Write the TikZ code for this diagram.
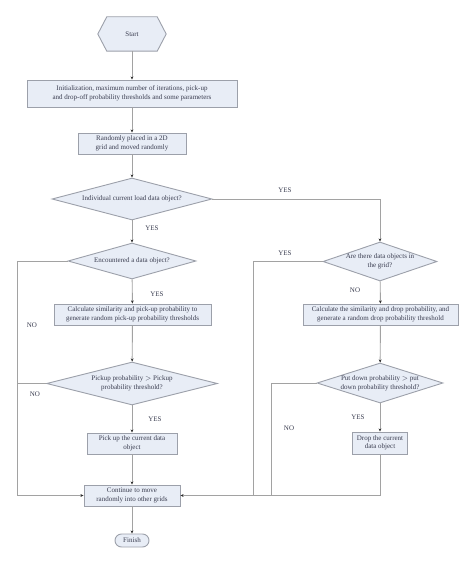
\documentclass[tikz,border=0pt]{standalone}
\usepackage{fontspec}
\setmainfont{Liberation Serif}
\usetikzlibrary{shapes.geometric,arrows.meta}
\pgfdeclarelayer{background}
\pgfsetlayers{background,main}
\definecolor{boxfill}{HTML}{E8EDF6}
\definecolor{boxdraw}{HTML}{9CA0AA}
\definecolor{linec}{HTML}{A2A2A2}
\definecolor{textc}{HTML}{3A3D50}
\definecolor{tipc}{HTML}{303030}
\newcommand\ztext[1]{\makebox[0pt][c]{\begin{tabular}{@{}c@{}}#1\end{tabular}}}
\tikzset{
  every node/.style={font=\fontsize{7}{8.6}\selectfont, text=textc},
  procbox/.style={rectangle, draw=boxdraw, fill=boxfill, line width=0.9pt, inner sep=0pt, align=center},
  decbox/.style={diamond, draw=boxdraw, fill=boxfill, line width=0.9pt, inner sep=0pt, align=center},
  conn/.style={draw=linec, line width=0.9pt},
  arr/.style={conn, -{Stealth[length=3.2pt,width=2.8pt,color=tipc]}},
  lbl/.style={inner sep=0pt},
}
\begin{document}
\begin{tikzpicture}[x=1pt,y=-1pt]
\useasboundingbox (0,0) rectangle (474,564);
% nodes
\node (start) [minimum width=68pt, minimum height=34pt, inner sep=0pt] at (132,34) {Start};
\begin{pgfonlayer}{background}
\filldraw[draw=boxdraw, fill=boxfill, line width=0.9pt] (start.west) -- ([xshift=9pt]start.north west) -- ([xshift=-9pt]start.north east) -- (start.east) -- ([xshift=-9pt]start.south east) -- ([xshift=9pt]start.south west) -- cycle;
\end{pgfonlayer}
\node (init) [procbox, minimum width=210pt, minimum height=27pt] at (132,93.5) {Initialization, maximum number of iterations, pick-up\\and drop-off probability thresholds and some parameters};
\node (rand) [procbox, minimum width=108pt, minimum height=21pt] at (132,143.5) {Randomly placed in a 2D\\grid and moved randomly};
\node (d1) [decbox, minimum width=160pt, minimum height=42pt] at (132,199) {\ztext{Individual current load data object?}};
\node (enc) [decbox, minimum width=128pt, minimum height=36pt] at (132,261) {\ztext{Encountered a data object?}};
\node (calcl) [procbox, minimum width=157pt, minimum height=21pt] at (132.5,314.5) {Calculate similarity and pick-up probability to\\generate random pick-up probability thresholds};
\node (pick) [decbox, minimum width=171pt, minimum height=43pt] at (132,383.5) {\ztext{Pickup probability $>$ Pickup\\probability threshold?}};
\node (pickbox) [procbox, minimum width=90pt, minimum height=21pt] at (132,443.5) {Pick up the current data\\object};
\node (cont) [procbox, minimum width=96pt, minimum height=21pt] at (132,495.5) {Continue to move\\randomly into other grids};
\node (finish) [procbox, rounded corners=6.5pt, minimum width=34pt, minimum height=13pt] at (132,540.5) {Finish};
\node (are) [decbox, minimum width=114pt, minimum height=39pt] at (380,261.5) {\ztext{Are there data objects in\\the grid?}};
\node (calcr) [procbox, minimum width=155pt, minimum height=21pt] at (380.5,314.5) {Calculate the similarity and drop probability, and\\generate a random drop probability threshold};
\node (put) [decbox, minimum width=126pt, minimum height=40pt] at (380,383) {\ztext{Put down probability $>$ put\\down probability threshold?}};
\node (drop) [procbox, minimum width=55pt, minimum height=22pt] at (380,443) {Drop the current\\data object};
% helper coordinates
\coordinate (lx) at (17,0);
\coordinate (rxa) at (253,0);
\coordinate (rxb) at (271,0);
% connectors
\draw[arr] (start) -- (init);
\draw[arr] (init) -- (rand);
\draw[arr] (rand) -- (d1);
\draw[arr] (d1) -- (enc);
\draw[arr] (d1.east) -| (are.north);
\draw[arr] (enc) -- (calcl);
\draw[arr] (enc.west) -| (lx |- cont.west) -- (cont.west);
\draw[arr] (calcl) -- (pick);
\draw[conn] (pick.west) -- (lx |- pick.west);
\draw[arr] (pick) -- (pickbox);
\draw[arr] (pickbox) -- (cont);
\draw[arr] (cont) -- (finish);
\draw[arr] (are) -- (calcr);
\draw[conn] (are.west) -| (rxa |- cont.east);
\draw[arr] (calcr) -- (put);
\draw[conn] (put.west) -| (rxb |- cont.east);
\draw[arr] (put) -- (drop);
\draw[arr] (drop.south) |- (cont.east);
% labels
\node[lbl] (l1) at (285,190) {YES};
\node[lbl] (l2) at (152,228) {YES};
\node[lbl] (l3) at (157,294) {YES};
\node[lbl] (l4) at (32,325) {NO};
\node[lbl] (l5) at (35,394) {NO};
\node[lbl] (l6) at (155,419) {YES};
\node[lbl] (l7) at (285,253) {YES};
\node[lbl] (l8) at (355,290) {NO};
\node[lbl] (l9) at (358,417) {YES};
\node[lbl] (l10) at (289,428) {NO};
\end{tikzpicture}
\end{document}
